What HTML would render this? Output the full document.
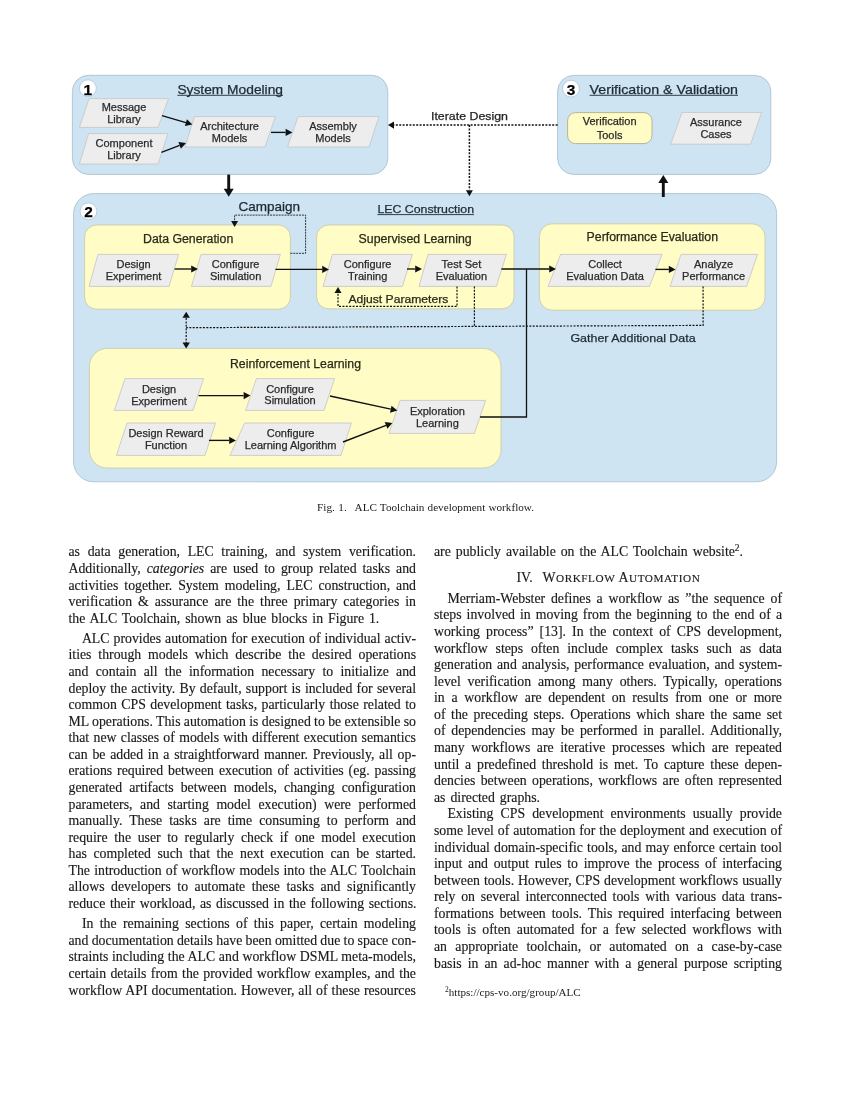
<!DOCTYPE html>
<html><head><meta charset="utf-8">
<style>
html,body{margin:0;padding:0;background:#fff;}
body{width:850px;height:1100px;position:relative;overflow:hidden;}
#pg{position:absolute;left:0;top:0;width:850px;height:1100px;will-change:transform;}
.ln{position:absolute;white-space:nowrap;font-family:'Liberation Serif', serif;font-size:13.8px;line-height:16.57px;color:#1a1a1a;-webkit-text-stroke:0.15px #1a1a1a;}
.ln sup{font-size:9.5px;line-height:0;vertical-align:5px;word-spacing:0}
.cap{position:absolute;white-space:nowrap;font-family:'Liberation Serif', serif;font-size:11.1px;color:#1a1a1a;}
svg{position:absolute;left:0;top:0;}
</style></head><body><div id="pg">
<svg width="850" height="500" viewBox="0 0 850 500" font-family="'Liberation Sans', sans-serif"><rect x="72.4" y="75.3" width="315.40" height="99.10" rx="16" fill="#cee4f3" stroke="#a5bccc" stroke-width="0.8"/>
<rect x="557.6" y="75.4" width="213.20" height="99.00" rx="16" fill="#cee4f3" stroke="#a5bccc" stroke-width="0.8"/>
<rect x="73.6" y="193.6" width="703.00" height="288.20" rx="20" fill="#cee4f3" stroke="#a5bccc" stroke-width="0.8"/>
<rect x="84.6" y="225" width="205.80" height="84.20" rx="12" fill="#fffcc6" stroke="#c9c6a0" stroke-width="0.8"/>
<rect x="316.6" y="225" width="197.40" height="83.80" rx="12" fill="#fffcc6" stroke="#c9c6a0" stroke-width="0.8"/>
<rect x="539.4" y="223.8" width="225.60" height="86.40" rx="13" fill="#fffcc6" stroke="#c9c6a0" stroke-width="0.8"/>
<rect x="89.4" y="348.4" width="411.60" height="119.60" rx="18" fill="#fffcc6" stroke="#c9c6a0" stroke-width="0.8"/>
<rect x="567.6" y="112.6" width="84.40" height="31.00" rx="8" fill="#fffcc6" stroke="#aaa77c" stroke-width="0.8"/>
<circle cx="87.9" cy="88.2" r="8.4" fill="#fff" stroke="#a8bfd0" stroke-width="0.7"/>
<text x="87.9" y="94.6" font-size="15.4" text-anchor="middle" fill="#000" stroke="#000" stroke-width="0.25" font-weight="bold">1</text>
<circle cx="571" cy="88.7" r="8.4" fill="#fff" stroke="#a8bfd0" stroke-width="0.7"/>
<text x="571" y="95.1" font-size="15.4" text-anchor="middle" fill="#000" stroke="#000" stroke-width="0.25" font-weight="bold">3</text>
<circle cx="88.5" cy="211.3" r="8.4" fill="#fff" stroke="#a8bfd0" stroke-width="0.7"/>
<text x="88.5" y="216.9" font-size="15.4" text-anchor="middle" fill="#000" stroke="#000" stroke-width="0.25" font-weight="bold">2</text>
<text x="177.4" y="94.2" font-size="12.6" text-anchor="start" fill="#1f2a33" stroke="#1f2a33" stroke-width="0.25" font-weight="normal" textLength="105.6" lengthAdjust="spacingAndGlyphs">System Modeling</text>
<line x1="177.4" y1="95.3" x2="283" y2="95.3" stroke="#1f2a33" stroke-width="0.9"/>
<text x="589.6" y="94.2" font-size="12.6" text-anchor="start" fill="#1f2a33" stroke="#1f2a33" stroke-width="0.25" font-weight="normal" textLength="148.4" lengthAdjust="spacingAndGlyphs">Verification &amp; Validation</text>
<line x1="589.6" y1="95.3" x2="738" y2="95.3" stroke="#1f2a33" stroke-width="0.9"/>
<text x="377.4" y="213.4" font-size="11.6" text-anchor="start" fill="#1f2a33" stroke="#1f2a33" stroke-width="0.25" font-weight="normal" textLength="96.6" lengthAdjust="spacingAndGlyphs">LEC Construction</text>
<line x1="377.4" y1="214.6" x2="474" y2="214.6" stroke="#1f2a33" stroke-width="0.9"/>
<text x="431" y="119.9" font-size="11.1" text-anchor="start" fill="#222" stroke="#222" stroke-width="0.25" font-weight="normal" textLength="77" lengthAdjust="spacingAndGlyphs">Iterate Design</text>
<text x="238.4" y="211.4" font-size="12.4" text-anchor="start" fill="#1f2a33" stroke="#1f2a33" stroke-width="0.25" font-weight="normal" textLength="61.6" lengthAdjust="spacingAndGlyphs">Campaign</text>
<text x="143" y="242.6" font-size="12.3" text-anchor="start" fill="#2a2a1a" stroke="#2a2a1a" stroke-width="0.25" font-weight="normal">Data Generation</text>
<text x="358.6" y="243" font-size="12.3" text-anchor="start" fill="#2a2a1a" stroke="#2a2a1a" stroke-width="0.25" font-weight="normal" textLength="113" lengthAdjust="spacingAndGlyphs">Supervised Learning</text>
<text x="586.6" y="241.4" font-size="12.3" text-anchor="start" fill="#2a2a1a" stroke="#2a2a1a" stroke-width="0.25" font-weight="normal" textLength="131.4" lengthAdjust="spacingAndGlyphs">Performance Evaluation</text>
<text x="348.5" y="302.8" font-size="10.7" text-anchor="start" fill="#2a2a1a" stroke="#2a2a1a" stroke-width="0.25" font-weight="normal" textLength="99.8" lengthAdjust="spacingAndGlyphs">Adjust Parameters</text>
<text x="570.4" y="342.2" font-size="11.1" text-anchor="start" fill="#1f2a33" stroke="#1f2a33" stroke-width="0.25" font-weight="normal" textLength="125.3" lengthAdjust="spacingAndGlyphs">Gather Additional Data</text>
<text x="230" y="368.4" font-size="12.3" text-anchor="start" fill="#2a2a1a" stroke="#2a2a1a" stroke-width="0.25" font-weight="normal" textLength="131" lengthAdjust="spacingAndGlyphs">Reinforcement Learning</text>
<polygon points="89,98.6 168.6,98.6 158,127.4 79.4,127.4" fill="#ededed" stroke="#c4c4c4" stroke-width="0.8"/>
<text x="124" y="110.6" font-size="11" text-anchor="middle" fill="#2a2a2a" stroke="#2a2a2a" stroke-width="0.25" font-weight="normal">Message</text>
<text x="124" y="123" font-size="11" text-anchor="middle" fill="#2a2a2a" stroke="#2a2a2a" stroke-width="0.25" font-weight="normal">Library</text>
<polygon points="88.6,133.6 168,133.6 158,164 79.4,164" fill="#ededed" stroke="#c4c4c4" stroke-width="0.8"/>
<text x="124" y="147" font-size="11" text-anchor="middle" fill="#2a2a2a" stroke="#2a2a2a" stroke-width="0.25" font-weight="normal">Component</text>
<text x="124" y="159.4" font-size="11" text-anchor="middle" fill="#2a2a2a" stroke="#2a2a2a" stroke-width="0.25" font-weight="normal">Library</text>
<polygon points="194.4,116.6 275.4,116.6 265,147 185,147" fill="#ededed" stroke="#c4c4c4" stroke-width="0.8"/>
<text x="229.6" y="130" font-size="11" text-anchor="middle" fill="#2a2a2a" stroke="#2a2a2a" stroke-width="0.25" font-weight="normal">Architecture</text>
<text x="229.6" y="142.4" font-size="11" text-anchor="middle" fill="#2a2a2a" stroke="#2a2a2a" stroke-width="0.25" font-weight="normal">Models</text>
<polygon points="298,116.6 379,116.6 369,147 287.6,147" fill="#ededed" stroke="#c4c4c4" stroke-width="0.8"/>
<text x="333" y="130" font-size="11" text-anchor="middle" fill="#2a2a2a" stroke="#2a2a2a" stroke-width="0.25" font-weight="normal">Assembly</text>
<text x="333" y="142.4" font-size="11" text-anchor="middle" fill="#2a2a2a" stroke="#2a2a2a" stroke-width="0.25" font-weight="normal">Models</text>
<polygon points="682,112.4 761.6,112.4 750.6,144.2 670.6,144.2" fill="#ededed" stroke="#c4c4c4" stroke-width="0.8"/>
<text x="716" y="126" font-size="11" text-anchor="middle" fill="#2a2a2a" stroke="#2a2a2a" stroke-width="0.25" font-weight="normal">Assurance</text>
<text x="716" y="138.4" font-size="11" text-anchor="middle" fill="#2a2a2a" stroke="#2a2a2a" stroke-width="0.25" font-weight="normal">Cases</text>
<polygon points="98,254.4 178.6,254.4 169,286.4 89,286.4" fill="#ededed" stroke="#c4c4c4" stroke-width="0.8"/>
<text x="133.6" y="268" font-size="11" text-anchor="middle" fill="#2a2a2a" stroke="#2a2a2a" stroke-width="0.25" font-weight="normal">Design</text>
<text x="133.6" y="280.4" font-size="11" text-anchor="middle" fill="#2a2a2a" stroke="#2a2a2a" stroke-width="0.25" font-weight="normal">Experiment</text>
<polygon points="201,254.4 280.4,254.4 271,286.4 191.4,286.4" fill="#ededed" stroke="#c4c4c4" stroke-width="0.8"/>
<text x="235.6" y="268" font-size="11" text-anchor="middle" fill="#2a2a2a" stroke="#2a2a2a" stroke-width="0.25" font-weight="normal">Configure</text>
<text x="235.6" y="280.4" font-size="11" text-anchor="middle" fill="#2a2a2a" stroke="#2a2a2a" stroke-width="0.25" font-weight="normal">Simulation</text>
<polygon points="332.4,254.4 412.4,254.4 402.4,286.4 323,286.4" fill="#ededed" stroke="#c4c4c4" stroke-width="0.8"/>
<text x="367.6" y="268" font-size="11" text-anchor="middle" fill="#2a2a2a" stroke="#2a2a2a" stroke-width="0.25" font-weight="normal">Configure</text>
<text x="367.6" y="280.4" font-size="11" text-anchor="middle" fill="#2a2a2a" stroke="#2a2a2a" stroke-width="0.25" font-weight="normal">Training</text>
<polygon points="428,254.4 506.4,254.4 496.4,286.4 419,286.4" fill="#ededed" stroke="#c4c4c4" stroke-width="0.8"/>
<text x="461.4" y="268" font-size="11" text-anchor="middle" fill="#2a2a2a" stroke="#2a2a2a" stroke-width="0.25" font-weight="normal">Test Set</text>
<text x="461.4" y="280.4" font-size="11" text-anchor="middle" fill="#2a2a2a" stroke="#2a2a2a" stroke-width="0.25" font-weight="normal">Evaluation</text>
<polygon points="560.6,254.4 662,254.4 649.4,286.4 548,286.4" fill="#ededed" stroke="#c4c4c4" stroke-width="0.8"/>
<text x="605" y="267.6" font-size="11" text-anchor="middle" fill="#2a2a2a" stroke="#2a2a2a" stroke-width="0.25" font-weight="normal">Collect</text>
<text x="605" y="280.4" font-size="11" text-anchor="middle" fill="#2a2a2a" stroke="#2a2a2a" stroke-width="0.25" font-weight="normal">Evaluation Data</text>
<polygon points="681,254.4 757.6,254.4 746.6,286.4 670,286.4" fill="#ededed" stroke="#c4c4c4" stroke-width="0.8"/>
<text x="713.6" y="267.6" font-size="11" text-anchor="middle" fill="#2a2a2a" stroke="#2a2a2a" stroke-width="0.25" font-weight="normal">Analyze</text>
<text x="713.6" y="280.4" font-size="11" text-anchor="middle" fill="#2a2a2a" stroke="#2a2a2a" stroke-width="0.25" font-weight="normal">Performance</text>
<polygon points="125,378.6 203.6,378.6 193,410.4 114.4,410.4" fill="#ededed" stroke="#c4c4c4" stroke-width="0.8"/>
<text x="159" y="393" font-size="11" text-anchor="middle" fill="#2a2a2a" stroke="#2a2a2a" stroke-width="0.25" font-weight="normal">Design</text>
<text x="159" y="405" font-size="11" text-anchor="middle" fill="#2a2a2a" stroke="#2a2a2a" stroke-width="0.25" font-weight="normal">Experiment</text>
<polygon points="256.4,378.6 334.6,378.6 324,410.4 245.6,410.4" fill="#ededed" stroke="#c4c4c4" stroke-width="0.8"/>
<text x="290" y="392.6" font-size="11" text-anchor="middle" fill="#2a2a2a" stroke="#2a2a2a" stroke-width="0.25" font-weight="normal">Configure</text>
<text x="290" y="404.4" font-size="11" text-anchor="middle" fill="#2a2a2a" stroke="#2a2a2a" stroke-width="0.25" font-weight="normal">Simulation</text>
<polygon points="127,423 215.6,423 205,455.4 116.4,455.4" fill="#ededed" stroke="#c4c4c4" stroke-width="0.8"/>
<text x="166" y="437.4" font-size="11" text-anchor="middle" fill="#2a2a2a" stroke="#2a2a2a" stroke-width="0.25" font-weight="normal">Design Reward</text>
<text x="166" y="449.4" font-size="11" text-anchor="middle" fill="#2a2a2a" stroke="#2a2a2a" stroke-width="0.25" font-weight="normal">Function</text>
<polygon points="244.6,423 351.4,423 341,455.4 230,455.4" fill="#ededed" stroke="#c4c4c4" stroke-width="0.8"/>
<text x="290.6" y="437.4" font-size="11" text-anchor="middle" fill="#2a2a2a" stroke="#2a2a2a" stroke-width="0.25" font-weight="normal">Configure</text>
<text x="290.6" y="449.4" font-size="11" text-anchor="middle" fill="#2a2a2a" stroke="#2a2a2a" stroke-width="0.25" font-weight="normal">Learning Algorithm</text>
<polygon points="400,400.4 485.6,400.4 474.4,433.4 389,433.4" fill="#ededed" stroke="#c4c4c4" stroke-width="0.8"/>
<text x="437.4" y="415" font-size="11" text-anchor="middle" fill="#2a2a2a" stroke="#2a2a2a" stroke-width="0.25" font-weight="normal">Exploration</text>
<text x="437.4" y="427" font-size="11" text-anchor="middle" fill="#2a2a2a" stroke="#2a2a2a" stroke-width="0.25" font-weight="normal">Learning</text>
<text x="609.6" y="124.6" font-size="11" text-anchor="middle" fill="#2a2a2a" stroke="#2a2a2a" stroke-width="0.25" font-weight="normal">Verification</text>
<text x="609.6" y="139.4" font-size="11" text-anchor="middle" fill="#2a2a2a" stroke="#2a2a2a" stroke-width="0.25" font-weight="normal">Tools</text>
<line x1="162" y1="115.6" x2="185.88" y2="122.67" stroke="#111" stroke-width="1.35"/>
<polygon points="192.4,124.6 184.86,126.12 186.90,119.22" fill="#111"/>
<line x1="161.4" y1="152.4" x2="179.65" y2="145.43" stroke="#111" stroke-width="1.35"/>
<polygon points="186,143 180.93,148.79 178.36,142.06" fill="#111"/>
<line x1="271" y1="132.4" x2="285.60" y2="132.40" stroke="#111" stroke-width="1.35"/>
<polygon points="292.4,132.4 285.60,136.00 285.60,128.80" fill="#111"/>
<line x1="174.6" y1="269" x2="191.20" y2="269.00" stroke="#111" stroke-width="1.35"/>
<polygon points="198,269 191.20,272.60 191.20,265.40" fill="#111"/>
<line x1="275.4" y1="269.4" x2="322.20" y2="269.40" stroke="#111" stroke-width="1.35"/>
<polygon points="329,269.4 322.20,273.00 322.20,265.80" fill="#111"/>
<line x1="407" y1="269" x2="415.20" y2="269.00" stroke="#111" stroke-width="1.35"/>
<polygon points="422,269 415.20,272.60 415.20,265.40" fill="#111"/>
<line x1="501.4" y1="269" x2="549.20" y2="269.00" stroke="#111" stroke-width="1.35"/>
<polygon points="556,269 549.20,272.60 549.20,265.40" fill="#111"/>
<line x1="655.4" y1="269.4" x2="668.80" y2="269.40" stroke="#111" stroke-width="1.35"/>
<polygon points="675.6,269.4 668.80,273.00 668.80,265.80" fill="#111"/>
<line x1="198.6" y1="395.6" x2="243.60" y2="395.60" stroke="#111" stroke-width="1.35"/>
<polygon points="250.4,395.6 243.60,399.20 243.60,392.00" fill="#111"/>
<line x1="209" y1="440.4" x2="229.20" y2="440.40" stroke="#111" stroke-width="1.35"/>
<polygon points="236,440.4 229.20,444.00 229.20,436.80" fill="#111"/>
<line x1="330" y1="396" x2="390.75" y2="409.16" stroke="#111" stroke-width="1.35"/>
<polygon points="397.4,410.6 389.99,412.68 391.52,405.64" fill="#111"/>
<line x1="343" y1="442" x2="386.05" y2="425.44" stroke="#111" stroke-width="1.35"/>
<polygon points="392.4,423 387.35,428.80 384.76,422.08" fill="#111"/>
<polyline points="480,417 526.5,417 526.5,269" fill="none" stroke="#111" stroke-width="1.3"/>
<line x1="228.7" y1="174.6" x2="228.7" y2="190" stroke="#111" stroke-width="2.9"/>
<polygon points="228.7,196.8 223.70,188.80 233.70,188.80" fill="#111"/>
<line x1="663.3" y1="197" x2="663.3" y2="182" stroke="#111" stroke-width="2.9"/>
<polygon points="663.3,175 668.30,183.00 658.30,183.00" fill="#111"/>
<polyline points="557.6,125.1 393.5,125.1" fill="none" stroke="#111" stroke-width="1.5" stroke-dasharray="2 1.4"/>
<polygon points="388,125.1 394.00,121.50 394.00,128.70" fill="#111"/>
<polyline points="469.4,125.1 469.4,190" fill="none" stroke="#111" stroke-width="1.5" stroke-dasharray="2 1.4"/>
<polygon points="469.4,196.2 465.90,190.20 472.90,190.20" fill="#111"/>
<polyline points="290.4,253.3 305.6,253.3 305.6,215.1 234.6,215.1 234.6,221" fill="none" stroke="#2a3440" stroke-width="1.0" stroke-dasharray="2 0.9"/>
<polygon points="234.6,227 231.10,221.00 238.10,221.00" fill="#111"/>
<polyline points="457,286.4 457,306.4 338,306.4 338,293" fill="none" stroke="#111" stroke-width="1.2" stroke-dasharray="2 1.4"/>
<polygon points="338,287 341.50,293.00 334.50,293.00" fill="#111"/>
<polyline points="474.4,286.4 474.4,326.4" fill="none" stroke="#111" stroke-width="1.2" stroke-dasharray="2 1.4"/>
<polyline points="703.1,286.4 703.1,325.4 186.2,327.7" fill="none" stroke="#111" stroke-width="1.2" stroke-dasharray="2 1.4"/>
<polyline points="186.2,318 186.2,343" fill="none" stroke="#111" stroke-width="1.2" stroke-dasharray="2 1.4"/>
<polygon points="186.2,311.8 189.90,317.80 182.50,317.80" fill="#111"/>
<polygon points="186.2,348.4 182.50,342.40 189.90,342.40" fill="#111"/></svg>
<div class="cap" style="left:317px;top:500.5px;font-size:11.3px;word-spacing:0.6px">Fig. 1.</div>
<div class="cap" style="left:354.6px;top:500.5px;font-size:11.2px;word-spacing:0.3px">ALC Toolchain development workflow.</div>
<div class="ln" style="left:68.50px;top:544.40px;word-spacing:4.214px">as data generation, LEC training, and system verification.</div>
<div class="ln" style="left:68.50px;top:560.97px;word-spacing:2.502px">Additionally, <i>categories</i> are used to group related tasks and</div>
<div class="ln" style="left:68.50px;top:577.54px;word-spacing:2.547px">activities together. System modeling, LEC construction, and</div>
<div class="ln" style="left:68.50px;top:594.11px;word-spacing:2.545px">verification &amp; assurance are the three primary categories in</div>
<div class="ln" style="left:68.50px;top:610.68px;word-spacing:1.500px">the ALC Toolchain, shown as blue blocks in Figure 1.</div>
<div class="ln" style="left:81.90px;top:630.90px;word-spacing:0.599px">ALC provides automation for execution of individual activ-</div>
<div class="ln" style="left:68.50px;top:647.47px;word-spacing:3.391px">ities through models which describe the desired operations</div>
<div class="ln" style="left:68.50px;top:664.04px;word-spacing:3.881px">and contain all the information necessary to initialize and</div>
<div class="ln" style="left:68.50px;top:680.61px;word-spacing:0.778px">deploy the activity. By default, support is included for several</div>
<div class="ln" style="left:68.50px;top:697.18px;word-spacing:1.033px">common CPS development tasks, particularly those related to</div>
<div class="ln" style="left:68.50px;top:713.75px;word-spacing:-0.134px">ML operations. This automation is designed to be extensible so</div>
<div class="ln" style="left:68.50px;top:730.32px;word-spacing:0.844px">that new classes of models with different execution semantics</div>
<div class="ln" style="left:68.50px;top:746.89px;word-spacing:1.292px">can be added in a straightforward manner. Previously, all op-</div>
<div class="ln" style="left:68.50px;top:763.46px;word-spacing:1.480px">erations required between execution of activities (eg. passing</div>
<div class="ln" style="left:68.50px;top:780.03px;word-spacing:3.606px">generated artifacts between models, changing configuration</div>
<div class="ln" style="left:68.50px;top:796.60px;word-spacing:4.091px">parameters, and starting model execution) were performed</div>
<div class="ln" style="left:68.50px;top:813.17px;word-spacing:3.590px">manually. These tasks are time consuming to perform and</div>
<div class="ln" style="left:68.50px;top:829.74px;word-spacing:3.153px">require the user to regularly check if one model execution</div>
<div class="ln" style="left:68.50px;top:846.31px;word-spacing:3.109px">has completed such that the next execution can be started.</div>
<div class="ln" style="left:68.50px;top:862.88px;word-spacing:0.768px">The introduction of workflow models into the ALC Toolchain</div>
<div class="ln" style="left:68.50px;top:879.45px;word-spacing:3.062px">allows developers to automate these tasks and significantly</div>
<div class="ln" style="left:68.50px;top:896.02px;word-spacing:1.170px">reduce their workload, as discussed in the following sections.</div>
<div class="ln" style="left:81.90px;top:916.32px;word-spacing:2.895px">In the remaining sections of this paper, certain modeling</div>
<div class="ln" style="left:68.50px;top:932.89px;word-spacing:-0.170px">and documentation details have been omitted due to space con-</div>
<div class="ln" style="left:68.50px;top:949.46px;word-spacing:0.228px">straints including the ALC and workflow DSML meta-models,</div>
<div class="ln" style="left:68.50px;top:966.03px;word-spacing:0.957px">certain details from the provided workflow examples, and the</div>
<div class="ln" style="left:68.50px;top:982.60px;word-spacing:0.513px">workflow API documentation. However, all of these resources</div>
<div class="ln" style="left:434.00px;top:544.10px;word-spacing:1.500px">are publicly available on the ALC Toolchain website<sup>2</sup>.</div>
<div class="ln" style="left:447.40px;top:590.80px;word-spacing:2.369px">Merriam-Webster defines a workflow as &#8221;the sequence of</div>
<div class="ln" style="left:434.00px;top:607.37px;word-spacing:1.574px">steps involved in moving from the beginning to the end of a</div>
<div class="ln" style="left:434.00px;top:623.94px;word-spacing:2.596px">working process&#8221; [13]. In the context of CPS development,</div>
<div class="ln" style="left:434.00px;top:640.51px;word-spacing:4.418px">workflow steps often include complex tasks such as data</div>
<div class="ln" style="left:434.00px;top:657.08px;word-spacing:1.299px">generation and analysis, performance evaluation, and system-</div>
<div class="ln" style="left:434.00px;top:673.65px;word-spacing:3.307px">level verification among many others. Typically, operations</div>
<div class="ln" style="left:434.00px;top:690.22px;word-spacing:3.306px">in a workflow are dependent on results from one or more</div>
<div class="ln" style="left:434.00px;top:706.79px;word-spacing:2.141px">of the preceding steps. Operations which share the same set</div>
<div class="ln" style="left:434.00px;top:723.36px;word-spacing:2.388px">of dependencies may be performed in parallel. Additionally,</div>
<div class="ln" style="left:434.00px;top:739.93px;word-spacing:3.143px">many workflows are iterative processes which are repeated</div>
<div class="ln" style="left:434.00px;top:756.50px;word-spacing:2.363px">until a predefined threshold is met. To capture these depen-</div>
<div class="ln" style="left:434.00px;top:773.07px;word-spacing:1.875px">dencies between operations, workflows are often represented</div>
<div class="ln" style="left:434.00px;top:789.64px;word-spacing:1.500px">as directed graphs.</div>
<div class="ln" style="left:447.40px;top:806.40px;word-spacing:3.689px">Existing CPS development environments usually provide</div>
<div class="ln" style="left:434.00px;top:822.97px;word-spacing:0.481px">some level of automation for the deployment and execution of</div>
<div class="ln" style="left:434.00px;top:839.54px;word-spacing:0.674px">individual domain-specific tools, and may enforce certain tool</div>
<div class="ln" style="left:434.00px;top:856.11px;word-spacing:2.266px">input and output rules to improve the process of interfacing</div>
<div class="ln" style="left:434.00px;top:872.68px;word-spacing:0.484px">between tools. However, CPS development workflows usually</div>
<div class="ln" style="left:434.00px;top:889.25px;word-spacing:2.314px">rely on several interconnected tools with various data trans-</div>
<div class="ln" style="left:434.00px;top:905.82px;word-spacing:2.552px">formations between tools. This required interfacing between</div>
<div class="ln" style="left:434.00px;top:922.39px;word-spacing:2.693px">tools is often automated for a few selected workflows with</div>
<div class="ln" style="left:434.00px;top:938.96px;word-spacing:4.839px">an appropriate toolchain, or automated on a case-by-case</div>
<div class="ln" style="left:434.00px;top:955.53px;word-spacing:2.609px">basis in an ad-hoc manner with a general purpose scripting</div>
<div class="ln" style="left:516.5px;top:569.50px">IV.</div>
<div class="ln" style="left:542.5px;top:569.50px;letter-spacing:0.55px">W<span style="font-size:11.2px">ORKFLOW</span> A<span style="font-size:11.2px">UTOMATION</span></div>
<div class="cap" style="left:445px;top:985px"><sup style="font-size:7.5px;vertical-align:4px">2</sup>https://cps-vo.org/group/ALC</div>
</div></body></html>
